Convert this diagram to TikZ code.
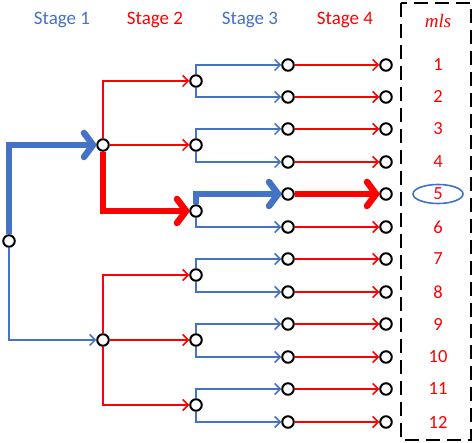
\documentclass[tikz,border=0pt]{standalone}
\usepackage{fontspec}
\setmainfont{Carlito}
\newfontfamily\mlsfont{Liberation Serif}
\usetikzlibrary{arrows.meta,positioning}
\definecolor{blu}{RGB}{68,114,196}
\definecolor{rd}{RGB}{255,0,0}

\begin{document}
\begin{tikzpicture}[x=1pt,y=-1pt,->,>={Straight Barb[length=5.5pt,width=11pt]},
                    line width=1.5pt]
  \tikzstyle{state}=[circle,draw=black,fill=white,line width=2pt,
                     inner sep=0pt,minimum size=11.5pt]
  \tikzstyle{bold}=[line width=6.5pt,
                    -{Straight Barb[length=9pt,width=24pt,round]}]
  \tikzstyle{stage}=[font=\fontsize{19}{22}\selectfont]
  \tikzstyle{num}=[text=rd,font=\fontsize{18.5}{22}\selectfont]
  \useasboundingbox (0,0) rectangle (474,443);

  % headings
  \node[stage,text=blu] (s1) at (62,20)  {Stage 1};
  \node[stage,text=rd]  (s2) at (155,20) {Stage 2};
  \node[stage,text=blu] (s3) at (250,20) {Stage 3};
  \node[stage,text=rd]  (s4) at (345,20) {Stage 4};

  % mls column
  \draw[-,line width=2.8pt,dash pattern=on 14pt off 7pt]
    (401,3) rectangle (471,440);
  \node[text=rd,font=\mlsfont\itshape\fontsize{19}{22}\selectfont]
    (mls) at (438,21) {mls};

  % nodes
  \node[state] (r)  at (9,241)   {};
  \node[state] (a1) at (103,145) {};
  \node[state] (a2) at (103,340) {};
  \foreach \y [count=\i] in {81,145,211,275,340,405}
    \node[state] (b\i) at (196,\y) {};
  \foreach \y [count=\i] in {65,97,129,162,194,227,259,292,324,357,389,422} {
    \node[state] (c\i) at (288,\y) {};
    \node[state] (d\i) [right=84.5pt of c\i] {};
    \node[num]   (m\i) at (438,\y) {\i};
  }
  \draw[-,blu,line width=1.6pt] (m5) ellipse (25pt and 9.5pt);

  % stage 1
  \draw[blu] (r.north) |- (a1);
  \draw[blu] (r.south) |- (a2);
  % stage 2
  \foreach \p/\u/\m/\d in {a1/b1/b2/b3,a2/b4/b5/b6} {
    \draw[rd] (\p.north) |- (\u);
    \draw[rd] (\p) -- (\m);
    \draw[rd] (\p.south) |- (\d);
  }
  % stage 3
  \foreach \p [evaluate=\p as \u using int(2*\p-1),
               evaluate=\p as \d using int(2*\p)] in {1,...,6} {
    \draw[blu] (b\p.north) |- (c\u);
    \draw[blu] (b\p.south) |- (c\d);
  }
  % stage 4
  \foreach \i in {1,...,12}
    \draw[rd] (c\i) -- (d\i);

  % chosen path
  \draw[bold,blu] (r.north) |- (a1);
  \draw[bold,rd]  (a1.south) |- (b3);
  \draw[bold,blu] (b3.north) |- (c5);
  \draw[bold,rd]  (c5) -- (d5);
\end{tikzpicture}
\end{document}
